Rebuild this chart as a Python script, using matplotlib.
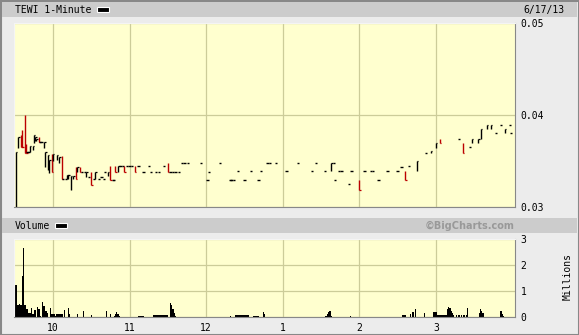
import matplotlib
matplotlib.use("Agg")
import matplotlib.pyplot as plt
from matplotlib.patches import Rectangle

# price bars: minutes after 9:30, high, low, red (down) flag
bar_min = [1, 3, 5, 6, 8, 9, 10, 11, 12, 14, 15, 16, 17, 19, 20, 21, 23, 24, 26, 27,
           29, 30, 33, 35, 37, 38, 40, 41, 42, 44, 46, 48, 49, 51, 53, 55, 56, 58, 60, 62,
           63, 66, 68, 70, 71, 73, 75, 77, 78, 79, 81, 83, 85, 86, 88, 90, 92, 94, 97, 101,
           105, 107, 111, 113, 117, 120, 122, 124, 126, 129, 131, 133, 136, 146, 151, 152, 161, 169, 170, 172,
           175, 180, 185, 191, 193, 198, 200, 205, 213, 222, 233, 236, 243, 248, 250, 251, 254, 256, 262, 264,
           270, 274, 279, 281, 285, 292, 300, 303, 306, 309, 315, 322, 326, 330, 333, 348, 351, 357, 358, 363,
           365, 370, 373, 377, 381, 384, 388, 389]
bar_high = [0.0360, 0.0376, 0.0378, 0.0384, 0.0400, 0.0369, 0.0360, 0.0360, 0.0366, 0.0366, 0.0378, 0.0376, 0.0374, 0.0376, 0.0371, 0.0371, 0.0371, 0.0360, 0.0356, 0.0351,
            0.0358, 0.0358, 0.0357, 0.0354, 0.0355, 0.0330, 0.0330, 0.0335, 0.0335, 0.0334, 0.0334, 0.0343, 0.0343, 0.0343, 0.0338, 0.0338, 0.0338, 0.0333, 0.0338, 0.0330,
            0.0338, 0.0330, 0.0333, 0.0330, 0.0338, 0.0338, 0.0345, 0.0329, 0.0329, 0.0345, 0.0345, 0.0345, 0.0345, 0.0345, 0.0345, 0.0345, 0.0345, 0.0345, 0.0345, 0.0338,
            0.0345, 0.0338, 0.0338, 0.0338, 0.0345, 0.0348, 0.0338, 0.0338, 0.0338, 0.0338, 0.0348, 0.0348, 0.0348, 0.0348, 0.0329, 0.0338, 0.0348, 0.0329, 0.0329, 0.0329,
            0.0339, 0.0329, 0.0339, 0.0329, 0.0339, 0.0348, 0.0348, 0.0348, 0.0339, 0.0348, 0.0339, 0.0348, 0.0339, 0.0348, 0.0348, 0.0329, 0.0339, 0.0339, 0.0325, 0.0339,
            0.0329, 0.0339, 0.0339, 0.0339, 0.0329, 0.0339, 0.0339, 0.0343, 0.0339, 0.0345, 0.0350, 0.0359, 0.0361, 0.0370, 0.0374, 0.0374, 0.0370, 0.0365, 0.0374, 0.0374,
            0.0385, 0.0389, 0.0389, 0.0380, 0.0389, 0.0385, 0.0389, 0.0380]
bar_low = [0.0300, 0.0364, 0.0365, 0.0365, 0.0359, 0.0359, 0.0360, 0.0360, 0.0360, 0.0362, 0.0370, 0.0372, 0.0372, 0.0371, 0.0371, 0.0371, 0.0364, 0.0343, 0.0340, 0.0337,
           0.0338, 0.0350, 0.0351, 0.0348, 0.0330, 0.0330, 0.0330, 0.0330, 0.0330, 0.0318, 0.0330, 0.0330, 0.0338, 0.0338, 0.0338, 0.0338, 0.0333, 0.0333, 0.0324, 0.0330,
           0.0330, 0.0330, 0.0333, 0.0330, 0.0338, 0.0334, 0.0329, 0.0329, 0.0329, 0.0338, 0.0338, 0.0345, 0.0345, 0.0338, 0.0345, 0.0345, 0.0345, 0.0338, 0.0345, 0.0338,
           0.0345, 0.0338, 0.0338, 0.0338, 0.0345, 0.0338, 0.0338, 0.0338, 0.0338, 0.0338, 0.0348, 0.0348, 0.0348, 0.0348, 0.0329, 0.0338, 0.0348, 0.0329, 0.0329, 0.0329,
           0.0339, 0.0329, 0.0339, 0.0329, 0.0339, 0.0348, 0.0348, 0.0348, 0.0339, 0.0348, 0.0339, 0.0348, 0.0339, 0.0339, 0.0348, 0.0329, 0.0339, 0.0339, 0.0325, 0.0339,
           0.0318, 0.0339, 0.0339, 0.0339, 0.0329, 0.0339, 0.0339, 0.0343, 0.0329, 0.0345, 0.0339, 0.0359, 0.0359, 0.0364, 0.0370, 0.0374, 0.0359, 0.0365, 0.0370, 0.0370,
           0.0374, 0.0385, 0.0385, 0.0380, 0.0389, 0.0380, 0.0389, 0.0380]
bar_red = [0, 0, 1, 1, 1, 1, 0, 0, 0, 0, 0, 0, 0, 1, 0, 0, 0, 0, 0, 0,
           1, 0, 0, 0, 1, 0, 0, 0, 0, 0, 0, 1, 0, 1, 0, 0, 0, 0, 1, 0,
           0, 0, 0, 0, 0, 0, 1, 0, 0, 1, 0, 0, 0, 1, 0, 0, 0, 1, 0, 0,
           0, 0, 0, 0, 0, 1, 0, 0, 0, 0, 0, 0, 0, 0, 0, 0, 0, 0, 0, 0,
           0, 0, 0, 0, 0, 0, 0, 0, 0, 0, 0, 0, 0, 0, 0, 0, 0, 0, 0, 0,
           1, 0, 0, 0, 0, 0, 0, 0, 1, 0, 0, 0, 0, 0, 1, 0, 1, 0, 0, 0,
           0, 0, 0, 0, 0, 0, 0, 0]

# volume (millions) by minute after 9:30
vol_min = [1, 2, 3, 4, 5, 6, 7, 8, 9, 10, 11, 12, 13, 14, 15, 16, 18, 19, 20, 22,
           23, 24, 25, 26, 28, 29, 30, 31, 32, 33, 34, 35, 36, 37, 39, 42, 43, 49, 54, 60,
           72, 75, 78, 79, 80, 81, 82, 97, 98, 99, 100, 101, 109, 110, 111, 112, 113, 114, 115, 116,
           117, 118, 119, 120, 122, 123, 124, 125, 126, 169, 173, 174, 175, 176, 177, 178, 179, 180, 181, 182,
           183, 187, 188, 189, 190, 191, 195, 196, 244, 245, 246, 247, 248, 263, 304, 305, 306, 310, 312, 314,
           321, 328, 329, 330, 331, 332, 333, 334, 335, 336, 337, 338, 339, 340, 341, 342, 343, 344, 346, 348,
           350, 352, 354, 355, 364, 365, 366, 367, 381, 382, 383]
vol = [1.23, 0.46, 0.46, 0.50, 0.48, 1.59, 2.67, 0.45, 0.30, 0.30, 0.15, 0.15, 0.36, 0.10, 0.10, 0.28, 0.40, 0.30, 0.05, 0.59,
       0.44, 0.22, 0.22, 0.14, 0.33, 0.10, 0.10, 0.10, 0.05, 0.12, 0.12, 0.12, 0.12, 0.12, 0.28, 0.36, 0.12, 0.12, 0.22, 0.07,
       0.23, 0.12, 0.05, 0.12, 0.19, 0.12, 0.05, 0.05, 0.05, 0.05, 0.05, 0.05, 0.07, 0.07, 0.07, 0.07, 0.07, 0.07, 0.07, 0.07,
       0.07, 0.07, 0.07, 0.07, 0.55, 0.45, 0.30, 0.15, 0.05, 0.05, 0.08, 0.08, 0.08, 0.08, 0.08, 0.08, 0.08, 0.08, 0.08, 0.08,
       0.08, 0.04, 0.04, 0.04, 0.04, 0.04, 0.20, 0.10, 0.05, 0.10, 0.18, 0.23, 0.05, 0.03, 0.07, 0.07, 0.07, 0.10, 0.20, 0.30,
       0.14, 0.20, 0.20, 0.20, 0.07, 0.07, 0.07, 0.07, 0.07, 0.07, 0.07, 0.07, 0.30, 0.40, 0.33, 0.25, 0.15, 0.08, 0.07, 0.07,
       0.07, 0.07, 0.07, 0.33, 0.15, 0.30, 0.25, 0.15, 0.22, 0.12, 0.05]

hour_min = [30, 90, 150, 210, 270, 330]
hour_lab = ["10", "11", "12", "1", "2", "3"]
price_ticks = [0.03, 0.04, 0.05]
vol_ticks = [0, 1, 2, 3]

BG = "#ececec"
PANEL = "#ffffcf"
GRID = "#cccc99"
HDR = "#cccccc"
RED = "#bb0000"
MONO = "DejaVu Sans Mono"

fig = plt.figure(figsize=(5.79, 3.35), dpi=100, facecolor=BG)
W, H = 579.0, 335.0


def fbox(x0, y0, x1, y1, **kw):
    # rectangle given in pixel coords (top-left origin)
    fig.patches.append(Rectangle((x0 / W, 1 - y1 / H), (x1 - x0) / W, (y1 - y0) / H,
                                 transform=fig.transFigure, figure=fig, **kw))


# outer frame and header bars
fbox(0.5, 0.5, 578.5, 334.5, facecolor="none", edgecolor="#888888", lw=1.5)
fbox(2, 2, 577, 17, facecolor=HDR, edgecolor="none")
fbox(2, 218, 577, 233, facecolor=HDR, edgecolor="none")
fbox(97, 7, 109, 12, facecolor="black", edgecolor="white", lw=0.8)
fbox(55, 223, 67, 228, facecolor="black", edgecolor="white", lw=0.8)

fig.text(15 / W, 1 - 10 / H, "TEWI 1-Minute", family=MONO, fontsize=7, va="center")
fig.text(523 / W, 1 - 10 / H, "6/17/13", family=MONO, fontsize=7, va="center")
fig.text(15 / W, 1 - 226 / H, "Volume", family=MONO, fontsize=7, va="center")
fig.text(515 / W, 1 - 226 / H, "\u00a9BigCharts.com", fontsize=7, fontweight="bold",
         color="#999999", ha="right", va="center")
fig.text(568 / W, 1 - 277 / H, "Millions", family=MONO, fontsize=7, rotation=90,
         ha="center", va="center")

axp = fig.add_axes([14 / W, 1 - 207 / H, 501 / W, 184 / H], facecolor=PANEL)
axv = fig.add_axes([14 / W, 1 - 317 / H, 501 / W, 78 / H], facecolor=PANEL)

for ax in (axp, axv):
    ax.set_xlim(-0.5, 392)
    ax.set_xticks(hour_min)
    ax.grid(True, color=GRID, lw=0.9)
    ax.set_axisbelow(True)
    ax.tick_params(length=0, labelsize=7, pad=4)
    ax.yaxis.tick_right()
    for s in ("top", "left"):
        ax.spines[s].set_color("#f4f4f4")
    for s in ("bottom", "right"):
        ax.spines[s].set_color("#888888")

# price bars
axp.set_ylim(0.03, 0.05)
axp.set_yticks(price_ticks)
axp.set_yticklabels(["%.2f" % v for v in price_ticks], family=MONO)
axp.set_xticklabels([])
for m, hi, lo, r in zip(bar_min, bar_high, bar_low, bar_red):
    c = RED if r else "black"
    if hi - lo < 0.00005:
        axp.hlines(hi, m - 0.9, m + 0.9, color=c, lw=1.0)
    else:
        axp.vlines(m, lo, hi, color=c, lw=1.0)
        axp.hlines(lo if r else hi, m, m + 1.2, color=c, lw=0.9)

# volume
axv.bar(vol_min, vol, width=1.05, color="black", linewidth=0)
axv.set_ylim(0, 3)
axv.set_yticks(vol_ticks)
axv.set_yticklabels([str(v) for v in vol_ticks], family=MONO)
axv.set_xticklabels(hour_lab, family=MONO)

fig.savefig("out.png", dpi=100, facecolor=BG)
